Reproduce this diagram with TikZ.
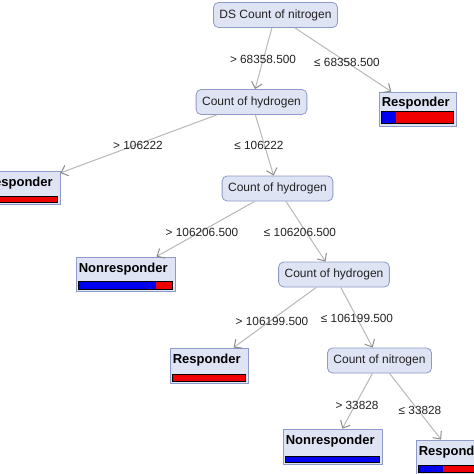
\documentclass[tikz,border=0pt]{standalone}
\usepackage{fontspec}
\setmainfont{Liberation Sans}
\usetikzlibrary{arrows.meta,calc}
\definecolor{boxfill}{HTML}{DEE4F4}
\definecolor{boxline}{HTML}{8E9BC8}
\definecolor{edgecol}{HTML}{B8B8B8}
\definecolor{tipcol}{HTML}{8C8C8C}
\definecolor{txt}{HTML}{222222}
\definecolor{barblue}{HTML}{0000F0}
\definecolor{barred}{HTML}{F00000}
\newcommand\leafbar[4]{% name, blue fraction, bar height, bottom gap
  \coordinate (#1-a) at ([xshift=3pt,yshift=#4pt]#1.south west);
  \coordinate (#1-b) at ([xshift=-3pt,yshift=#4pt+#3pt]#1.south east);
  \coordinate (#1-m) at ($(#1-a)!#2!(#1-a -| #1-b)$);
  \fill[barblue] (#1-a) rectangle (#1-m |- #1-b);
  \fill[barred] (#1-m) rectangle (#1-b);
  \draw[black, line width=0.6pt] (#1-a) rectangle (#1-b);
}
\begin{document}
\begin{tikzpicture}[x=1pt,y=-1pt,
  inner/.style={draw=boxline, fill=boxfill, rounded corners=5pt, minimum height=25pt,
    inner xsep=6pt, inner ysep=0pt, font=\fontsize{12}{14}\selectfont, text=txt, line width=0.8pt},
  leafbox/.style={draw=boxline, fill=boxfill, line width=0.8pt, inner sep=0pt},
  leaftext/.style={font=\fontsize{13}{15}\selectfont\bfseries, text=black, inner sep=0pt, anchor=north west},
  elabel/.style={font=\fontsize{11.8}{13}\selectfont, text=txt, inner sep=1pt},
  edge/.style={draw=edgecol, line width=1pt, -{Straight Barb[length=6pt,width=11pt,color=tipcol]}}
]
\clip (0,0) rectangle (474,474);
\fill[white] (0,0) rectangle (474,474);

% internal nodes
\node[inner] (ds) at (275.5,15) {DS Count of nitrogen};
\node[inner] (h1) at (251.5,102) {Count of hydrogen};
\node[inner] (h2) at (277.5,188.5) {Count of hydrogen};
\node[inner] (h3) at (334,274.5) {Count of hydrogen};
\node[inner] (n2) at (379.5,360.5) {Count of nitrogen};

% leaves
\node[leafbox, minimum width=77pt, minimum height=34pt] (rR) at (417.5,109) {};
\node[leafbox, minimum width=78pt, minimum height=33pt] (lR) at (21,187.5) {};
\node[leafbox, minimum width=99pt, minimum height=34pt] (nr1) at (125.5,274) {};
\node[leafbox, minimum width=78pt, minimum height=35pt] (mR) at (209,365.5) {};
\node[leafbox, minimum width=99pt, minimum height=35pt] (nr2) at (332.5,446.5) {};
\node[leafbox, minimum width=78pt, minimum height=35pt] (bR) at (455,457.5) {};

\node[leaftext] (rRt) at ([xshift=3pt,yshift=-5pt]rR.north west) {Responder};
\node[leaftext] (lRt) at ([xshift=3pt,yshift=-6pt]lR.north west) {Responder};
\node[leaftext] (nr1t) at ([xshift=3pt,yshift=-6pt]nr1.north west) {Nonresponder};
\node[leaftext] (mRt) at ([xshift=3pt,yshift=-6pt]mR.north west) {Responder};
\node[leaftext] (nr2t) at ([xshift=3pt,yshift=-6pt]nr2.north west) {Nonresponder};
\node[leaftext] (bRt) at ([xshift=3pt,yshift=-6pt]bR.north west) {Responder};

\leafbar{rR}{0.2}{12}{3}
\leafbar{lR}{0}{6}{2}
\leafbar{nr1}{0.83}{8}{2}
\leafbar{mR}{0}{7}{2}
\leafbar{nr2}{1}{6}{2}
\leafbar{bR}{0.34}{7}{3}

% edges
\draw[edge] (ds) -- (h1);
\draw[edge] (ds) -- (rR);
\draw[edge] (h1) -- (lR);
\draw[edge] (h1) -- (h2);
\draw[edge] (h2) -- (nr1);
\draw[edge] (h2) -- (h3);
\draw[edge] (h3) -- (mR);
\draw[edge] (h3) -- (n2);
\draw[edge] (n2) -- (nr2);
\draw[edge] (n2) -- (bR);

% edge labels
\node[elabel] (l1) at (263,59) {> 68358.500};
\node[elabel] (l2) at (347,62) {≤ 68358.500};
\node[elabel] (l3) at (138,145) {> 106222};
\node[elabel] (l4) at (259,145) {≤ 106222};
\node[elabel] (l5) at (202,232) {> 106206.500};
\node[elabel] (l6) at (300,232) {≤ 106206.500};
\node[elabel] (l7) at (272,321) {> 106199.500};
\node[elabel] (l8) at (357,318) {≤ 106199.500};
\node[elabel] (l9) at (357,405) {> 33828};
\node[elabel] (l10) at (420,410) {≤ 33828};
\end{tikzpicture}
\end{document}
